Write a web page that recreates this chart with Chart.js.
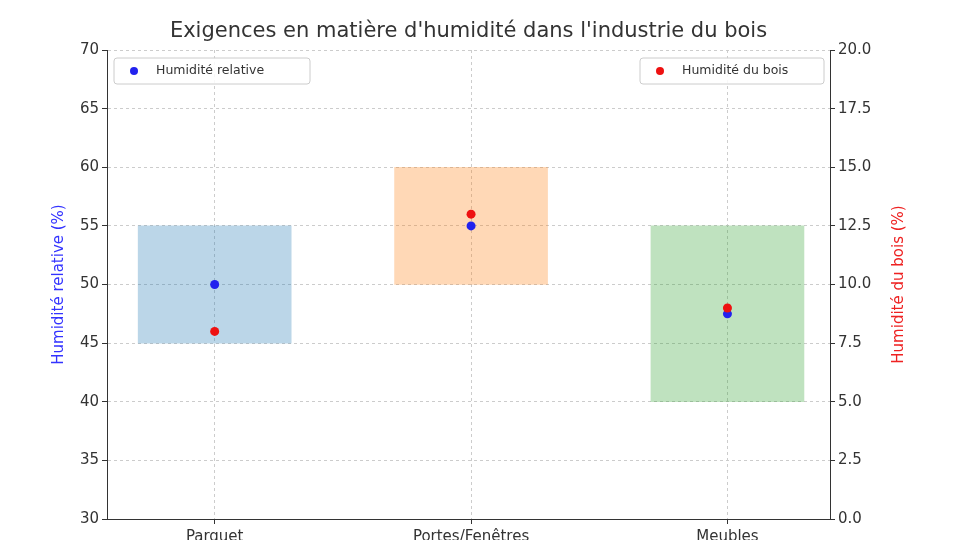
<!DOCTYPE html>
<html><head><meta charset="utf-8">
<script src="https://cdn.jsdelivr.net/npm/chart.js@4"></script>
<style>body{margin:0;background:#fff}#c{display:block}</style>
</head><body>
<canvas id="c" width="960" height="540"></canvas>
<script>
const categories = ['Parquet', 'Portes/Fenêtres', 'Meubles'];
const rhRanges = [[45, 55], [50, 60], [40, 55]];
const rhValues = [50, 55, 47.5];
const woodValues = [8, 13, 9];
const barColors = ['rgba(31,119,180,0.3)', 'rgba(255,127,14,0.3)', 'rgba(44,160,44,0.3)'];
const FONT = 'DejaVu Sans';

// title, right axis title and two legend boxes drawn by hand (matplotlib style)
const extras = {
  id: 'extras',
  afterDraw(chart) {
    const c = chart.ctx, a = chart.chartArea;
    c.save();
    c.fillStyle = '#333';
    c.font = '21px ' + FONT;
    c.textAlign = 'center';
    c.textBaseline = 'middle';
    c.fillText("Exigences en matière d'humidité dans l'industrie du bois", (a.left + a.right) / 2, 32);
    c.save();
    c.translate(899, (a.top + a.bottom) / 2);
    c.rotate(-Math.PI / 2);
    c.font = '15px ' + FONT;
    c.fillStyle = '#ee2222';
    c.fillText('Humidité du bois (%)', 0, 0);
    c.restore();
    c.font = '12.5px ' + FONT;
    c.textAlign = 'left';
    const box = (x, y, w, color, text) => {
      c.fillStyle = 'rgba(255,255,255,0.85)';
      c.strokeStyle = '#ccc';
      c.lineWidth = 1;
      c.beginPath(); c.roundRect(x, y, w, 26, 3); c.fill(); c.stroke();
      c.fillStyle = color;
      c.beginPath(); c.arc(x + 20, y + 13, 4, 0, Math.PI * 2); c.fill();
      c.fillStyle = '#333';
      c.fillText(text, x + 42, y + 13);
    };
    box(a.left + 7, a.top + 8, 196, '#2222ee', 'Humidité relative');
    box(a.right - 190, a.top + 8, 184, '#ee1111', 'Humidité du bois');
    c.restore();
  }
};

new Chart(document.getElementById('c'), {
  data: {
    datasets: [
      {
        type: 'bar', label: 'range',
        data: categories.map((_, i) => ({ x: i, y: rhRanges[i] })),
        backgroundColor: barColors, borderWidth: 0,
        barThickness: 153, yAxisID: 'y', order: 3
      },
      {
        type: 'scatter', label: 'Humidité relative',
        data: categories.map((_, i) => ({ x: i, y: rhValues[i] })),
        backgroundColor: '#2222ee', borderWidth: 0, pointRadius: 4.5,
        yAxisID: 'y', order: 2
      },
      {
        type: 'scatter', label: 'Humidité du bois',
        data: categories.map((_, i) => ({ x: i, y: woodValues[i] })),
        backgroundColor: '#ee1111', borderWidth: 0, pointRadius: 4.5,
        yAxisID: 'y2', order: 1
      }
    ]
  },
  options: {
    responsive: false, animation: false,
    layout: { padding: { top: 50, left: 50, right: 0, bottom: 0 } },
    plugins: { legend: { display: false }, tooltip: { enabled: false } },
    scales: {
      x: {
        type: 'linear', min: -0.42, max: 2.4, offset: false,
        afterBuildTicks: s => { s.ticks = categories.map((_, i) => ({ value: i })); },
        afterFit: s => { s.height = 21; },
        ticks: { callback: v => categories[v], color: '#333', font: { family: FONT, size: 15 }, padding: 4 },
        grid: { offset: false, color: '#ccc', drawTicks: true, tickColor: '#333', tickLength: 5 },
        border: { color: '#333', dash: [3, 3] }
      },
      y: {
        position: 'left', min: 30, max: 70,
        afterFit: s => { s.width = 57; },
        ticks: { stepSize: 5, color: '#333', font: { family: FONT, size: 15 } },
        grid: { color: '#ccc', tickColor: '#333', tickLength: 5 },
        border: { color: '#333', dash: [3, 3] },
        title: { display: true, text: 'Humidité relative (%)', color: '#3333ff', font: { family: FONT, size: 15 }, padding: 0 }
      },
      y2: {
        position: 'right', min: 0, max: 20,
        afterFit: s => { s.width = 130; },
        ticks: { stepSize: 2.5, callback: v => v.toFixed(1), color: '#333', font: { family: FONT, size: 15 } },
        grid: { drawOnChartArea: false, tickColor: '#333', tickLength: 5 },
        border: { color: '#333' }
      }
    }
  },
  plugins: [extras]
});
</script>
</body></html>
